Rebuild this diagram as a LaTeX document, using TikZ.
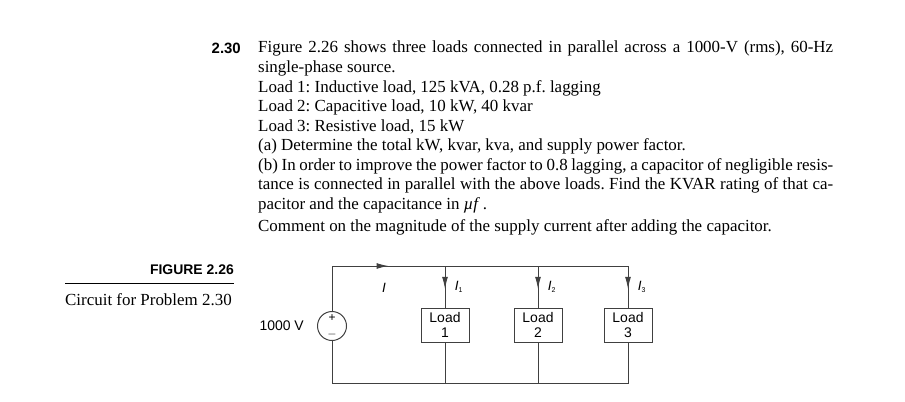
\documentclass[tikz,border=0pt]{standalone}
\usepackage{fontspec}
\setmainfont{Liberation Serif}
\setsansfont{Liberation Sans}
\usetikzlibrary{positioning,arrows.meta,decorations.markings}
\tikzset{
  line/.style={draw=black!75, line width=1bp},
  load/.style={draw=black!75, line width=1bp, fill=white, minimum width=48bp, minimum height=34bp, inner sep=0pt, align=center, font=\sffamily\fontsize{14}{15}\selectfont},
  txt/.style={anchor=west, inner sep=0pt, font=\fontsize{17}{19}\selectfont},
  lbl/.style={inner sep=0pt, font=\sffamily\itshape\fontsize{13.5}{14}\selectfont},
  cur/.style={postaction={decorate}, decoration={markings, mark=at position #1 with {\arrow{Latex[length=12bp,width=6bp]}}}}
}
\begin{document}
\frenchspacing
\begin{tikzpicture}[x=1bp, y=-1bp]
  \useasboundingbox (0,0) rectangle (905,401);
  % problem text
  \node[txt, anchor=east, font=\sffamily\bfseries\fontsize{15}{19}\selectfont] (num) at (241,48) {2.30};
  \node[txt] (l1) at (258,48) {\makebox[575bp][s]{Figure 2.26 shows three loads connected in parallel across a 1000-V (rms), 60-Hz}};
  \node[txt] (l2) at (258,68) {single-phase source.};
  \node[txt] (l3) at (258,88) {Load 1: Inductive load, 125 kVA, 0.28 p.f. lagging};
  \node[txt] (l4) at (258,107) {Load 2: Capacitive load, 10 kW, 40 kvar};
  \node[txt] (l5) at (258,127) {Load 3: Resistive load, 15 kW};
  \node[txt] (l6) at (258,146) {(a) Determine the total kW, kvar, kva, and supply power factor.};
  \node[txt] (l7) at (258,166) {\makebox[575bp][s]{(b) In order to improve the power factor to 0.8 lagging, a capacitor of negligible resis-}};
  \node[txt] (l8) at (258,185) {\makebox[575bp][s]{tance is connected in parallel with the above loads. Find the KVAR rating of that ca-}};
  \node[txt] (l9) at (258,205) {pacitor and the capacitance in \textit{µf}\,.};
  \node[txt] (l10) at (258,227) {Comment on the magnitude of the supply current after adding the capacitor.};
  % caption
  \node[txt, anchor=east, font=\sffamily\bfseries\fontsize{14}{14}\selectfont] (fig) at (234,270) {FIGURE 2.26};
  \draw[line width=0.8bp] (65,283) -- (234,283);
  \node[txt] (cap) at (65,300) {Circuit for Problem 2.30};
  % circuit
  \coordinate (tl) at (332,266);
  \coordinate (bl) at (332,383);
  \coordinate (tr) at (628,266);
  \coordinate (br) at (628,383);
  \node[circle, draw=black!75, line width=1bp, minimum size=29bp, inner sep=0pt] (src) at (332,326) {};
  \node[font=\sffamily\fontsize{12}{12}\selectfont, inner sep=0pt] (plus) at (332,318) {+};
  \node[font=\sffamily\fontsize{13}{13}\selectfont, inner sep=0pt] (minus) at (332,335) {$-$};
  \node[anchor=east, inner sep=0pt, font=\sffamily\fontsize{14}{15}\selectfont] (volt) at (304,326) {1000 V};
  \node[load] (ld1) at (445,325) {Load\\1};
  \node[load] (ld2) at (538,325) {Load\\2};
  \node[load] (ld3) at (628,325) {Load\\3};
  \coordinate (t1) at (445,266);
  \coordinate (t2) at (538,266);
  \coordinate (b1) at (445,383);
  \coordinate (b2) at (538,383);
  \draw[line] (src.north) -- (tl) -- (tr) -- (ld3.north);
  \draw[line, cur=0.5] (tl) -- (t1);
  \draw[line] (src.south) -- (bl) -- (br) -- (ld3.south);
  \draw[line, cur=0.55] (t1) -- (ld1.north);
  \draw[line, cur=0.55] (t2) -- (ld2.north);
  \draw[line, cur=0.55] (tr) -- (ld3.north);
  \draw[line] (ld1.south) -- (b1);
  \draw[line] (ld2.south) -- (b2);
  \node[lbl] (I) at (384,288) {I};
  \node[lbl] (I1) at (459,287) {I\textsubscript{\upshape\scriptsize 1}};
  \node[lbl] (I2) at (552,287) {I\textsubscript{\upshape\scriptsize 2}};
  \node[lbl] (I3) at (642,287) {I\textsubscript{\upshape\scriptsize 3}};
\end{tikzpicture}
\end{document}
